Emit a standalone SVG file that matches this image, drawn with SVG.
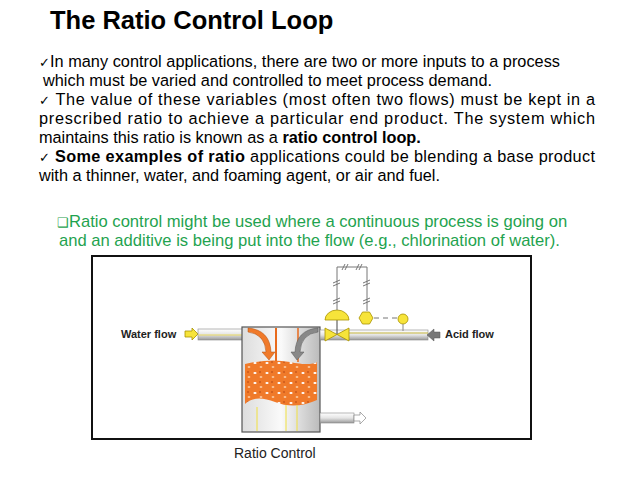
<svg xmlns="http://www.w3.org/2000/svg" width="638" height="478" viewBox="0 0 638 478">
<style>
.t{font-family:"Liberation Sans",Arial,sans-serif;font-size:16.3px;fill:#000}
.g{font-family:"Liberation Sans",Arial,sans-serif;font-size:16.6px;fill:#1fa34f}
.ck{font-family:"DejaVu Sans",sans-serif;font-size:13px}
.lb{font-family:"Liberation Sans",Arial,sans-serif;font-size:11px;font-weight:bold;fill:#222}
.sig{stroke:#777;stroke-width:1;fill:none}
.y{fill:#f7e43a;stroke:#a89200;stroke-width:0.8}
</style>
<defs>
<linearGradient id="pipe" x1="0" y1="0" x2="0" y2="1"><stop offset="0" stop-color="#fff"/><stop offset="0.5" stop-color="#e4e4e4"/><stop offset="1" stop-color="#999"/></linearGradient>
<linearGradient id="tank" x1="0" y1="0" x2="1" y2="0"><stop offset="0" stop-color="#ddd"/><stop offset="0.5" stop-color="#fafafa"/><stop offset="1" stop-color="#bbb"/></linearGradient>
<pattern id="foam" width="12" height="10" patternUnits="userSpaceOnUse"><rect width="12" height="10" fill="#f07a2a"/><ellipse cx="3" cy="3" rx="1.6" ry="0.9" fill="#fff"/><ellipse cx="9" cy="7" rx="1.4" ry="0.8" fill="#ffe0c0"/><circle cx="8" cy="2" r="0.8" fill="#b04010"/></pattern>
</defs>
<rect width="638" height="478" fill="#fff"/>
<text x="50" y="29" font-family="Liberation Sans,Arial,sans-serif" font-size="25.5" font-weight="bold">The Ratio Control Loop</text>
<g id="bullets">
<text class="t" x="39" y="67" textLength="521" lengthAdjust="spacing"><tspan class="ck">✓</tspan>In many control applications, there are two or more inputs to a process</text>
<text class="t" x="43" y="86" textLength="449" lengthAdjust="spacing">which must be varied and controlled to meet process demand.</text>
<text class="t" x="39" y="105" textLength="556" lengthAdjust="spacing"><tspan class="ck">✓</tspan> The value of these variables (most often two flows) must be kept in a</text>
<text class="t" x="39" y="124" textLength="556" lengthAdjust="spacing">prescribed ratio to achieve a particular end product. The system which</text>
<text class="t" x="39" y="143">maintains this ratio is known as a <tspan font-weight="bold">ratio control loop.</tspan></text>
<text class="t" x="39" y="162" textLength="556" lengthAdjust="spacing"><tspan class="ck">✓</tspan> <tspan font-weight="bold">Some examples of ratio</tspan> applications could be blending a base product</text>
<text class="t" x="39" y="181">with a thinner, water, and foaming agent, or air and fuel.</text>
</g>
<g id="note">
<text class="g" x="57" y="227"><tspan font-size="13">❑</tspan>Ratio control might be used where a continuous process is going on</text>
<text class="g" x="59" y="246">and an additive is being put into the flow (e.g., chlorination of water).</text>
</g>
<g id="frame"><rect x="92" y="256" width="439" height="183" fill="#fff" stroke="#111" stroke-width="2"/></g>
<g id="water-flow">
<text class="lb" x="121" y="338">Water flow</text>
<path d="M185,331 h7 v-3 l6,6 l-6,6 v-3 h-7z" class="y"/>
<rect x="198" y="329" width="46" height="11" fill="url(#pipe)" stroke="#888" stroke-width="0.6"/>
<line x1="198" y1="335" x2="244" y2="335" stroke="#e8d860" stroke-width="1"/>
</g>
<g id="tank">
<rect x="242" y="327" width="78" height="105" fill="url(#tank)" stroke="#555" stroke-width="1.2"/>
<line x1="276" y1="328" x2="276" y2="362" stroke="#e86a1c" stroke-width="2"/>
<line x1="298" y1="328" x2="298" y2="362" stroke="#e86a1c" stroke-width="1.5"/>
<path d="M245,364 Q270,358 290,362 T317,362 V400 Q295,410 275,402 T245,404z" fill="url(#foam)"/>
<line x1="257" y1="407" x2="257" y2="431" stroke="#f0e040" stroke-width="1"/>
<line x1="286" y1="405" x2="286" y2="431" stroke="#f0e040" stroke-width="1"/>
<line x1="297" y1="405" x2="297" y2="431" stroke="#f0e040" stroke-width="1"/>
<path d="M248,332 Q265,334 266,352 l-4,0 l7,8 l6,-8 l-4,0 Q270,330 248,328z" fill="#f07a2a" stroke="#b05010" stroke-width="0.5"/>
<path d="M318,332 Q301,334 300,352 l4,0 l-7,8 l-6,-8 l4,0 Q296,330 318,328z" fill="#888" stroke="#555" stroke-width="0.5"/>
</g>
<g id="outlet">
<rect x="320" y="413" width="34" height="10" fill="url(#pipe)" stroke="#888" stroke-width="0.6"/>
<path d="M354,415 h6 v-3 l6,6 l-6,6 v-3 h-6z" fill="#fff" stroke="#888" stroke-width="0.7"/>
</g>
<g id="acid-flow">
<rect x="320" y="330" width="108" height="10" fill="url(#pipe)" stroke="#888" stroke-width="0.6"/>
<line x1="348" y1="333" x2="428" y2="333" stroke="#c8b840" stroke-width="1.2"/>
<path d="M440,332 h-6 v-3 l-7,6 l7,6 v-3 h6z" fill="#777" stroke="#555" stroke-width="0.5"/>
<text class="lb" x="445" y="338">Acid flow</text>
</g>
<g id="valve">
<path d="M325,328 L349,341 L349,328 L325,341z" class="y"/>
<line x1="337" y1="334" x2="337" y2="319" stroke="#444" stroke-width="1"/>
<path d="M325,320 a12,10 0 0 1 24,0z" class="y"/>
</g>
<g id="transmitter">
<polygon points="359,318 362.5,312 369.5,312 373,318 369.5,324 362.5,324" class="y"/>
<circle cx="403" cy="319" r="5" class="y"/>
<line x1="403" y1="324" x2="403" y2="331" stroke="#888" stroke-width="1"/>
</g>
<g id="connectors">
<path class="sig" d="M337,310 V267 H367 V311"/>
<line x1="374" y1="318" x2="397" y2="318" stroke="#777" stroke-width="1" stroke-dasharray="5,4"/>
<path class="sig" d="M333,283 l7,-3 M333,286 l7,-3 M333,301 l7,-3 M333,304 l7,-3 M363,283 l7,-3 M363,286 l7,-3 M363,301 l7,-3 M363,304 l7,-3 M342,270 l3,-6 M345,270 l3,-6 M356,270 l3,-6 M359,270 l3,-6"/>
</g>
<text x="234" y="458" font-family="Liberation Sans,Arial,sans-serif" font-size="14" fill="#222">Ratio Control</text>
</svg>
